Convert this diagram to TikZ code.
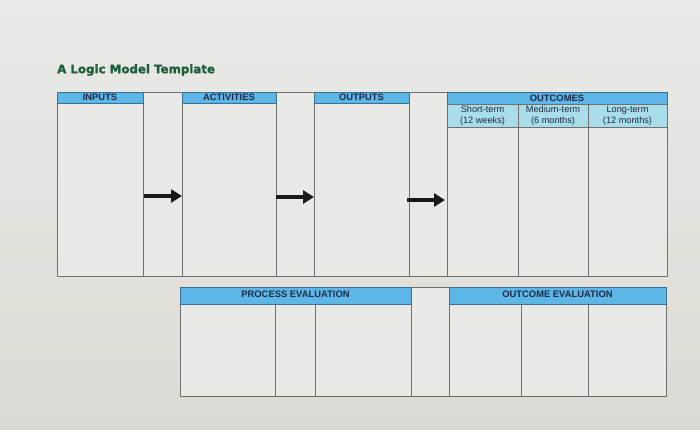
\documentclass[tikz,border=0pt]{standalone}
\usepackage{fontspec}
\setmainfont{Liberation Sans}
\newfontfamily\titlefont[FakeBold=1.5]{DejaVu Sans Bold}
\usetikzlibrary{arrows.meta}
\definecolor{bgtop}{HTML}{EAEAE7}
\definecolor{bgbot}{HTML}{DCDAD5}
\definecolor{cellc}{HTML}{E9E9E5}
\definecolor{gridc}{HTML}{707070}
\definecolor{hdrc}{HTML}{5DB6E6}
\definecolor{hdrline}{HTML}{3D6F94}
\definecolor{subc}{HTML}{A9DDEA}
\definecolor{txtc}{HTML}{1E2A48}
\definecolor{titlec}{HTML}{1D5E3B}
\tikzset{
  cell/.style={draw=gridc, line width=0.8pt, fill=cellc, inner sep=0pt, outer sep=0pt, anchor=north west},
  hdr/.style={draw=hdrline, line width=0.7pt, fill=hdrc, inner sep=0pt, outer sep=0pt, anchor=north west,
    font=\fontsize{9.4}{10}\selectfont\bfseries, text=txtc, align=center},
  subhdr/.style={draw=gridc, line width=0.7pt, fill=subc, inner sep=0pt, outer sep=0pt, anchor=north west,
    font=\fontsize{9.2}{11}\selectfont, text=txtc, align=center},
  flow/.style={line width=4.5pt, black!90, -{Triangle[length=11pt,width=13pt]}}
}
\begin{document}
\begin{tikzpicture}[x=1pt,y=-1pt]
\useasboundingbox (0,0) rectangle (700,429);
\shade[top color=bgtop, bottom color=bgbot] (0,0) rectangle (700,429);
% title
\node[anchor=west, font=\titlefont\fontsize{11.8}{13}\selectfont, text=titlec, inner sep=0pt] (title) at (57,70) {A Logic Model Template};
% top table columns
\node[cell, minimum width=86pt, minimum height=184pt] (inC) at (57,92) {};
\node[cell, minimum width=39pt, minimum height=184pt] (g1) at (143,92) {};
\node[cell, minimum width=94pt, minimum height=184pt] (acC) at (182,92) {};
\node[cell, minimum width=38pt, minimum height=184pt] (g2) at (276,92) {};
\node[cell, minimum width=95pt, minimum height=184pt] (ouC) at (314,92) {};
\node[cell, minimum width=38pt, minimum height=184pt] (g3) at (409,92) {};
\node[cell, minimum width=71pt, minimum height=184pt] (o1) at (447,92) {};
\node[cell, minimum width=70pt, minimum height=184pt] (o2) at (518,92) {};
\node[cell, minimum width=79pt, minimum height=184pt] (o3) at (588,92) {};
% headers
\node[hdr, minimum width=86pt, minimum height=11pt] (inH) at (57,92) {INPUTS};
\node[hdr, minimum width=94pt, minimum height=11pt] (acH) at (182,92) {ACTIVITIES};
\node[hdr, minimum width=95pt, minimum height=11pt] (ouH) at (314,92) {OUTPUTS};
\node[hdr, minimum width=220pt, minimum height=12pt] (ocH) at (447,92) {OUTCOMES};
\node[subhdr, minimum width=71pt, minimum height=23pt] (s1) at (447,104) {Short-term\\(12 weeks)};
\node[subhdr, minimum width=70pt, minimum height=23pt] (s2) at (518,104) {Medium-term\\(6 months)};
\node[subhdr, minimum width=79pt, minimum height=23pt] (s3) at (588,104) {Long-term\\(12 months)};
% arrows
\coordinate (a1s) at (144,196); \coordinate (a1e) at (182,196);
\coordinate (a2s) at (276,197); \coordinate (a2e) at (314,197);
\coordinate (a3s) at (407,200); \coordinate (a3e) at (445,200);
\draw[flow] (a1s) -- (a1e);
\draw[flow] (a2s) -- (a2e);
\draw[flow] (a3s) -- (a3e);
% lower table
\node[cell, minimum width=95pt, minimum height=109pt] (p1) at (180,287) {};
\node[cell, minimum width=40pt, minimum height=109pt] (p2) at (275,287) {};
\node[cell, minimum width=96pt, minimum height=109pt] (p3) at (315,287) {};
\node[cell, minimum width=38pt, minimum height=109pt] (pg) at (411,287) {};
\node[cell, minimum width=72pt, minimum height=109pt] (e1) at (449,287) {};
\node[cell, minimum width=67pt, minimum height=109pt] (e2) at (521,287) {};
\node[cell, minimum width=78pt, minimum height=109pt] (e3) at (588,287) {};
\node[hdr, minimum width=231pt, minimum height=17pt, text depth=2pt] (peH) at (180,287) {PROCESS EVALUATION};
\node[hdr, minimum width=217pt, minimum height=17pt, text depth=2pt] (oeH) at (449,287) {OUTCOME EVALUATION};
\end{tikzpicture}
\end{document}
